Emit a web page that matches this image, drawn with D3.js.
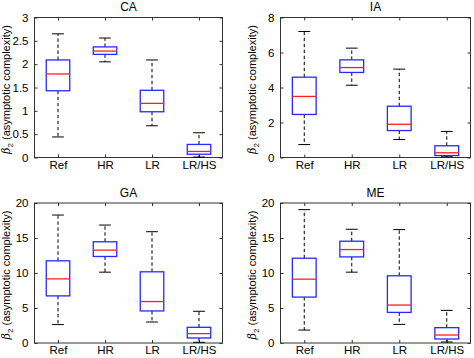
<!DOCTYPE html>
<html>
<head>
<meta charset="utf-8">
<script src="https://cdn.jsdelivr.net/npm/d3@7"></script>
<style>
  html, body { margin: 0; padding: 0; background: #fff; }
  svg { display: block; }
  text { font-family: "Liberation Sans", Arial, sans-serif; fill: #000; }
</style>
</head>
<body>
<svg id="chart" width="474" height="358"></svg>
<script>
// ---- data ----
const categories = ["Ref", "HR", "LR", "LR/HS"];
const panelTitles = ["CA", "IA", "GA", "ME"];
// [lower whisker, Q1, median, Q3, upper whisker] for each category
const statsCA = [[0.44, 1.43, 1.79, 2.09, 2.65], [2.05, 2.21, 2.28, 2.37, 2.56], [0.68, 0.98, 1.16, 1.44, 2.09], [0.01, 0.07, 0.13, 0.28, 0.53]];
const statsIA = [[0.74, 2.46, 3.49, 4.59, 7.2], [4.13, 4.86, 5.14, 5.58, 6.25], [1.03, 1.54, 1.9, 2.93, 5.05], [0.04, 0.11, 0.27, 0.67, 1.49]];
const statsGA = [[2.63, 6.73, 9.16, 11.74, 18.28], [10.12, 12.36, 13.27, 14.46, 16.85], [3.0, 4.58, 5.92, 10.17, 15.9], [0.1, 0.72, 1.34, 2.24, 4.53]];
const statsME = [[1.85, 6.56, 9.12, 12.11, 19.05], [10.12, 12.3, 13.35, 14.54, 16.25], [2.66, 4.37, 5.42, 9.6, 16.2], [0.14, 0.57, 1.14, 2.19, 4.66]];
const yMaxes = [3, 8, 20, 20];
const ticksCA = [0, 0.5, 1, 1.5, 2, 2.5, 3];
const ticksIA = [0, 2, 4, 6, 8];
const ticksGA = [0, 5, 10, 15, 20];
const ticksME = [0, 5, 10, 15, 20];
const yLabel = "(asymptotic complexity)";

const allStats = [statsCA, statsIA, statsGA, statsME];
const allTicks = [ticksCA, ticksIA, ticksGA, ticksME];
// panel frames
const frames = [
  {x: 34.5, y: 17.5, w: 188, h: 140},
  {x: 280.5, y: 17.5, w: 190, h: 140},
  {x: 34.5, y: 203, w: 188, h: 140},
  {x: 280.5, y: 203, w: 190, h: 140}
];

const svg = d3.select("#chart");
const axisColor = "#333";

panelTitles.forEach((title, i) => {
  const f = frames[i];
  const g = svg.append("g").attr("transform", `translate(${f.x},${f.y})`);
  const x = d3.scaleLinear().domain([0.5, 4.5]).range([0, f.w]);
  const y = d3.scaleLinear().domain([0, yMaxes[i]]).range([f.h, 0]);
  const ticks = allTicks[i];
  const fmt = d => String(d);

  // frame
  g.append("rect").attr("x", 0).attr("y", 0).attr("width", f.w).attr("height", f.h)
    .attr("fill", "none").attr("stroke", axisColor).attr("stroke-width", 1);

  // axes with inward ticks
  const yAxis = d3.axisLeft(y).tickValues(ticks).tickFormat(fmt).tickSizeInner(-3).tickSizeOuter(0).tickPadding(6);
  const ya = g.append("g").call(yAxis);
  const yAxisR = d3.axisRight(y).tickValues(ticks).tickFormat("").tickSizeInner(-3).tickSizeOuter(0);
  const yr = g.append("g").attr("transform", `translate(${f.w},0)`).call(yAxisR);
  const xAxis = d3.axisBottom(x).tickValues([1, 2, 3, 4]).tickFormat((d, k) => categories[k]).tickSizeInner(-3).tickSizeOuter(0).tickPadding(6);
  const xa = g.append("g").attr("transform", `translate(0,${f.h})`).call(xAxis);
  const xAxisT = d3.axisTop(x).tickValues([1, 2, 3, 4]).tickFormat("").tickSizeInner(-3).tickSizeOuter(0);
  const xt = g.append("g").call(xAxisT);
  [ya, yr, xa, xt].forEach(a => {
    a.select(".domain").remove();
    a.selectAll("line").attr("stroke", axisColor);
    a.selectAll("text").style("font-size", "11.5px").attr("fill", "#000");
  });
  // place x labels just under the axis
  xa.selectAll("text").attr("y", 3).attr("dy", "0.72em");

  // title
  g.append("text").attr("x", f.w / 2).attr("y", -6.5).attr("text-anchor", "middle")
    .style("font-size", "12px").text(title);

  // y label
  const yl = g.append("text")
    .attr("transform", `translate(${-25},${f.h / 2 + 2}) rotate(-90)`)
    .attr("text-anchor", "middle").style("font-size", "11px");
  yl.append("tspan").style("font-style", "italic").style("font-family", "'DejaVu Serif', serif").style("font-size", "11px").text("β");
  yl.append("tspan").attr("dy", "3").style("font-size", "8px").text("2");
  yl.append("tspan").attr("dy", "-3").text(" " + yLabel);

  const boxW = x(1.25) - x(1);
  const capW = x(1.125) - x(1);
  const stats = allStats[i];
  stats.forEach((s, k) => {
    const cx = x(k + 1);
    const [lo, q1, med, q3, hi] = s;
    // whiskers (dashed)
    g.append("line").attr("x1", cx).attr("x2", cx).attr("y1", y(q3)).attr("y2", y(hi))
      .attr("stroke", "#000").attr("stroke-width", 1).attr("stroke-dasharray", "3.5,2.5");
    g.append("line").attr("x1", cx).attr("x2", cx).attr("y1", y(q1)).attr("y2", y(lo))
      .attr("stroke", "#000").attr("stroke-width", 1).attr("stroke-dasharray", "3.5,2.5");
    // caps
    [lo, hi].forEach(v => {
      g.append("line").attr("x1", cx - capW).attr("x2", cx + capW).attr("y1", y(v)).attr("y2", y(v))
        .attr("stroke", "#000").attr("stroke-width", 1);
    });
    // box
    g.append("rect").attr("x", cx - boxW).attr("y", y(q3)).attr("width", 2 * boxW).attr("height", y(q1) - y(q3))
      .attr("fill", "#fff").attr("stroke", "#2828ff").attr("stroke-width", 1.3);
    // median
    g.append("line").attr("x1", cx - boxW).attr("x2", cx + boxW).attr("y1", y(med)).attr("y2", y(med))
      .attr("stroke", "#ff2020").attr("stroke-width", 1.3);
  });
});
</script>
</body>
</html>
